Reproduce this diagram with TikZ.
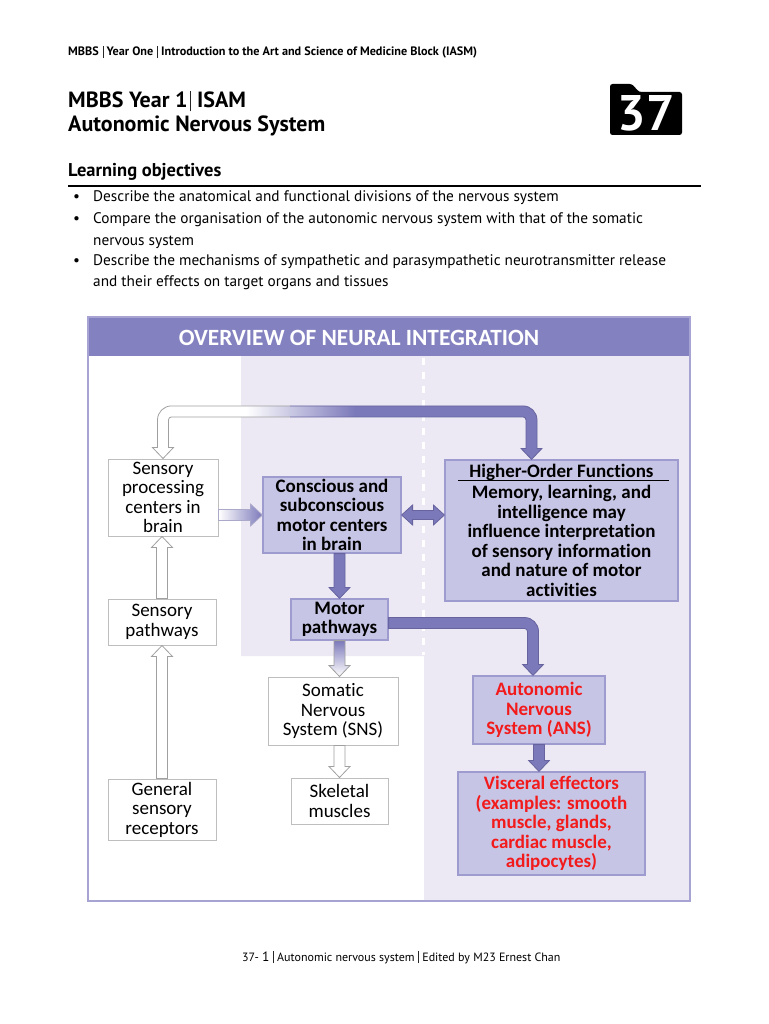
\documentclass[tikz,border=0pt]{standalone}
\usepackage{fontspec}
\setmainfont{PT Sans}
\newfontfamily\dfont[Ligatures=NoCommon]{Carlito}
\usetikzlibrary{calc}
\definecolor{band}{HTML}{8381C0}
\definecolor{framec}{HTML}{A7A4D4}
\definecolor{lav}{HTML}{ECE8F4}
\definecolor{pboxc}{HTML}{C7C5E5}
\definecolor{pboxedge}{HTML}{9E9BCF}
\definecolor{apurple}{HTML}{7C79BA}
\definecolor{aedge}{HTML}{66639F}
\definecolor{wedge}{HTML}{BEBEBE}
\definecolor{hedge}{HTML}{A0A0A0}
\definecolor{ared}{HTML}{F21A1A}
\pgfdeclarehorizontalshading{loopshade}{100bp}{color(0bp)=(white); color(37bp)=(white); color(51bp)=(apurple); color(100bp)=(apurple)}
\newcommand\vsep[1]{\hspace{0.3em}{\color{black!85}\rule[-0.18em]{0.55pt}{#1}}\hspace{0.3em}}
% vertical block arrow: style, from, to
\newcommand\vblock[3]{\path[#1] let \p1=(#2), \p2=(#3), \n1={sign(\y2-\y1)} in
 (\x1-5.5pt,\y1) -- (\x1-5.5pt,{\y2-(\n1)*11pt}) -- (\x1-10.5pt,{\y2-(\n1)*11pt}) -- (\x1,\y2) -- (\x1+10.5pt,{\y2-(\n1)*11pt}) -- (\x1+5.5pt,{\y2-(\n1)*11pt}) -- (\x1+5.5pt,\y1) -- cycle;}
% horizontal block arrow (left to right)
\newcommand\hblock[3]{\path[#1] let \p1=(#2), \p2=(#3) in
 (\x1,\y1-5.5pt) -- (\x2-12pt,\y1-5.5pt) -- (\x2-12pt,\y1-11pt) -- (\x2,\y1) -- (\x2-12pt,\y1+11pt) -- (\x2-12pt,\y1+5.5pt) -- (\x1,\y1+5.5pt) -- cycle;}
% double horizontal block arrow
\newcommand\hdouble[3]{\path[#1] let \p1=(#2), \p2=(#3) in
 (\x1,\y1) -- (\x1+11pt,\y1+10pt) -- (\x1+11pt,\y1+4.5pt) -- (\x2-11pt,\y1+4.5pt) -- (\x2-11pt,\y1+10pt) -- (\x2,\y1) -- (\x2-11pt,\y1-10pt) -- (\x2-11pt,\y1-4.5pt) -- (\x1+11pt,\y1-4.5pt) -- (\x1+11pt,\y1-10pt) -- cycle;}
\newcommand\looppath{let \p1=(sp.north), \p2=([xshift=-30pt]hof.north), \p3=([yshift=48pt]hof.north) in
 (\x1,\y1) -- (\x1-10.5pt,\y1+11pt) -- (\x1-5.5pt,\y1+11pt) -- (\x1-5.5pt,\y3+5.5pt-14pt) arc[start angle=180,end angle=90,radius=14pt] -- (\x2+5.5pt-14pt,\y3+5.5pt) arc[start angle=90,end angle=0,radius=14pt] -- (\x2+5.5pt,\y2+11pt) -- (\x2+10.5pt,\y2+11pt) -- (\x2,\y2) -- (\x2-10.5pt,\y2+11pt) -- (\x2-5.5pt,\y2+11pt) -- (\x2-5.5pt,\y3-5.5pt-3pt) arc[start angle=0,end angle=90,radius=3pt] -- (\x1+8.5pt,\y3-5.5pt) arc[start angle=90,end angle=180,radius=3pt] -- (\x1+5.5pt,\y1+11pt) -- (\x1+10.5pt,\y1+11pt) -- cycle}
\tikzset{
 wbox/.style={draw=wedge, line width=1pt, fill=white, inner sep=0pt, align=center, font=\dfont\fontsize{19}{19.5}\selectfont},
 pbox/.style={draw=pboxedge, line width=1.2pt, fill=pboxc, inner sep=0pt, align=center, font=\dfont\bfseries\fontsize{19}{19.5}\selectfont},
 redtext/.style={text=ared},
 parrow/.style={fill=apurple, draw=aedge, line width=0.8pt},
 harrow/.style={fill=white, draw=hedge, line width=0.8pt},
 htext/.style={inner sep=0pt, anchor=base west},
}
\begin{document}
\begin{tikzpicture}[x=1pt,y=-1pt]
\useasboundingbox[fill=white] (0,0) rectangle (768,1024);
% ---------- page header ----------
\node[htext, font=\bfseries\fontsize{12.2}{14}\selectfont] (h1) at (68,56) {MBBS\vsep{12pt}Year One\vsep{12pt}Introduction to the Art and Science of Medicine Block (IASM)};
\node[htext, font=\bfseries\fontsize{22}{26}\selectfont] (h2) at (68,108) {MBBS Year 1\hspace{0.1em}{\color{black!85}\rule[-0.15em]{0.7pt}{20pt}}\hspace{0.3em}ISAM};
\node[htext, font=\bfseries\fontsize{22}{26}\selectfont] (h3) at (68,132) {Autonomic Nervous System};
\fill[black, rounded corners=2.5pt] (610,135) -- (610,84) -- (632,84) -- (639,92) -- (682,92) -- (682,135) -- cycle;
\node[inner sep=0pt, text=white, font=\bfseries\fontsize{50}{50}\selectfont] (badge) at (646,113.5) {37};
\node[htext, font=\bfseries\fontsize{18.5}{20}\selectfont] (lo) at (68,177) {Learning objectives};
\draw[line width=1.5pt] (68,186) -- (701,186);
\begin{scope}[every node/.style={htext, font=\fontsize{15.3}{17}\selectfont}]
\node (b1) at (73,202) {•};
\node (t1) at (93,202) {Describe the anatomical and functional divisions of the nervous system};
\node (b2) at (73,223) {•};
\node (t2) at (93,223) {Compare the organisation of the autonomic nervous system with that of the somatic};
\node (t2b) at (93,245) {nervous system};
\node (b3) at (73,265) {•};
\node (t3) at (93,265) {Describe the mechanisms of sympathetic and parasympathetic neurotransmitter release};
\node (t3b) at (93,286) {and their effects on target organs and tissues};
\end{scope}
% ---------- diagram frame ----------
\fill[band] (88,317) rectangle (690,356);
\fill[lav] (241,356) -- (690,356) -- (690,901) -- (424,901) -- (424,656) -- (241,656) -- cycle;
\draw[white, line width=3pt, dash pattern=on 7pt off 7pt] (423,358) -- (423,655);
\draw[framec, line width=2pt] (88,317) rectangle (690,901);
\node[inner sep=0pt, text=white, font=\dfont\bfseries\fontsize{23.3}{26}\selectfont] (title) at (359,338) {OVERVIEW OF NEURAL INTEGRATION};
% ---------- boxes ----------
\node[wbox, minimum width=110pt, minimum height=77pt] (sp) at (163,497.5) {Sensory\\processing\\centers in\\brain};
\node[pbox, minimum width=138pt, minimum height=76pt] (cm) at (332,515) {Conscious and\\subconscious\\motor centers\\in brain};
\node[pbox, minimum width=233pt, minimum height=141pt] (hof) at (561.5,530.5) {Higher-Order Functions\\[1.5pt]Memory, learning, and\\intelligence may\\influence interpretation\\of sensory information\\and nature of motor\\activities};
\draw[line width=1.2pt] ([xshift=14pt,yshift=-21pt]hof.north west) -- ([xshift=-10pt,yshift=-21pt]hof.north east);
\node[wbox, minimum width=108pt, minimum height=46pt] (spw) at (162,622) {Sensory\\pathways};
\node[pbox, minimum width=97pt, minimum height=41pt] (mp) at (339.5,619.5) {Motor\\pathways};
\node[wbox, minimum width=130pt, minimum height=68pt] (sns) at (333,711) {Somatic\\Nervous\\System (SNS)};
\node[pbox, redtext, minimum width=132pt, minimum height=68pt] (ans) at (539,710) {Autonomic\\Nervous\\System (ANS)};
\node[wbox, minimum width=108pt, minimum height=61pt] (gsr) at (162,809.5) {General\\sensory\\receptors};
\node[wbox, minimum width=97pt, minimum height=46pt] (skm) at (339.5,801) {Skeletal\\muscles};
\node[pbox, redtext, minimum width=187pt, minimum height=103pt] (ve) at (551.5,823.5) {Visceral effectors\\(examples: smooth\\muscle, glands,\\cardiac muscle,\\adipocytes)};
% ---------- arrows ----------
\shade[shading=loopshade] \looppath;
\begin{scope}
\clip (0,0) rectangle (290,1024);
\draw[hedge, line width=0.8pt] \looppath;
\end{scope}
\begin{scope}
\clip (290,0) rectangle (768,1024);
\draw[aedge, line width=0.8pt] \looppath;
\end{scope}
\hblock{left color=white, right color=apurple, draw=aedge!55, line width=0.8pt}{sp.east |- cm.center}{cm.west}
\hdouble{parrow}{cm.east}{hof.west |- cm.east}
\vblock{parrow}{mp.north |- cm.south}{mp.north}
\vblock{top color=apurple, middle color=white, bottom color=white, draw=hedge, line width=0.8pt}{mp.south}{mp.south |- sns.north}
\vblock{harrow}{skm.north |- sns.south}{skm.north}
\vblock{parrow}{ans.south}{ans.south |- ve.north}
\vblock{harrow}{spw.north}{sp.south}
\vblock{harrow}{gsr.north}{spw.south}
\path[parrow] let \p1=([yshift=-3.5pt]mp.east), \p2=([xshift=-6pt]ans.north) in
 (\x1,\y1+5.5pt) -- (\x2+5.5pt-14pt,\y1+5.5pt) arc[start angle=90,end angle=0,radius=14pt] -- (\x2+5.5pt,\y2+11pt) -- (\x2+10.5pt,\y2+11pt) -- (\x2,\y2) -- (\x2-10.5pt,\y2+11pt) -- (\x2-5.5pt,\y2+11pt) -- (\x2-5.5pt,\y1-5.5pt-3pt) arc[start angle=0,end angle=90,radius=3pt] -- (\x1,\y1-5.5pt) -- cycle;
% ---------- footer ----------
\node[htext, font=\fontsize{12}{14}\selectfont] (foot) at (242,961) {37- {\fontsize{13.5}{14}\selectfont 1}\vsep{12pt}Autonomic nervous system\vsep{12pt}Edited by M23 Ernest Chan};
\end{tikzpicture}
\end{document}
